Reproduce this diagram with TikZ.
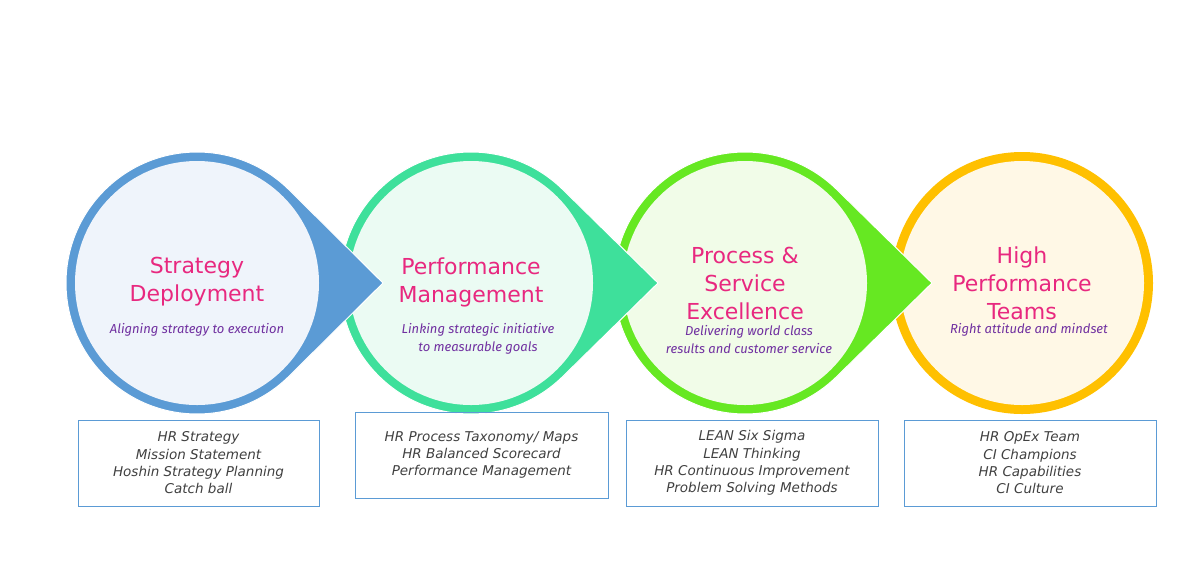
\documentclass[tikz,border=0pt]{standalone}
\usepackage{fontspec}
\usetikzlibrary{calc}
\setmainfont{DejaVu Sans}
\newfontfamily\hand{Fira Sans}
\definecolor{cA}{HTML}{5B9BD5}\definecolor{lA}{HTML}{EFF4FB}
\definecolor{cB}{HTML}{3EE09B}\definecolor{lB}{HTML}{EBFBF3}
\definecolor{cC}{HTML}{66E822}\definecolor{lC}{HTML}{F1FCE8}
\definecolor{cD}{HTML}{FFC000}\definecolor{lD}{HTML}{FFF8E6}
\definecolor{ttl}{HTML}{E8287F}\definecolor{sub}{HTML}{7030A0}
\definecolor{boxt}{HTML}{404040}
\tikzset{
 ttl/.style={text=ttl,font=\fontsize{22}{28}\selectfont,align=center,inner sep=0pt},
 sub/.style={text=sub,font=\hand\itshape\fontsize{13}{18}\selectfont,align=center,inner sep=0pt},
 bx/.style={draw=cA,line width=0.6pt,minimum width=#1,minimum height=86pt,align=center,text=boxt,font=\itshape\fontsize{13.5}{17.3}\selectfont},
}
\begin{document}
\begin{tikzpicture}[x=1pt,y=-1pt]
\useasboundingbox (0,0) rectangle (1181,566);
\def\R{131}
\fill[cD] (1022,283) circle (\R);
\fill[lD] (1022,283) circle (\R-9);
\foreach \cx/\tip/\c/\l in {745/932/cC/lC, 471/658/cB/lB, 197/383/cA/lA}{
  \pgfmathsetmacro\al{acos(\R/(\tip-\cx))}
  \draw[white,line width=1pt,fill=\c] (\tip,283) -- ($(\cx,283)+(-\al:\R)$) arc[start angle=-\al,end angle=-360+\al,radius=\R] -- cycle;
  \fill[\l] (\cx,283) circle (\R-9);
}
\node[ttl] (t1) at (197,282) {Strategy\\Deployment};
\node[ttl] (t2) at (471,282) {Performance\\Management};
\node[ttl] (t3) at (745,283) {Process \&\\Service\\Excellence};
\node[ttl] (t4) at (1022,283) {High\\Performance\\Teams};
\node[sub] (s1) at (197,330) {Aligning strategy to execution};
\node[sub] (s2) at (478,339) {Linking strategic initiative\\to measurable goals};
\node[sub] (s3) at (749,339) {Delivering world class\\results and customer service};
\node[sub] (s4) at (1029,330) {Right attitude and mindset};
\node[bx=241pt] (b1) at (198.5,463) {HR Strategy\\Mission Statement\\Hoshin Strategy Planning\\Catch ball};
\node[bx=253pt] (b2) at (481.5,455) {HR Process Taxonomy/ Maps\\HR Balanced Scorecard\\Performance Management};
\node[bx=252pt] (b3) at (752,463) {LEAN Six Sigma\\LEAN Thinking\\HR Continuous Improvement\\Problem Solving Methods};
\node[bx=252pt] (b4) at (1030,463) {HR OpEx Team\\CI Champions\\HR Capabilities\\CI Culture};
\end{tikzpicture}
\end{document}
